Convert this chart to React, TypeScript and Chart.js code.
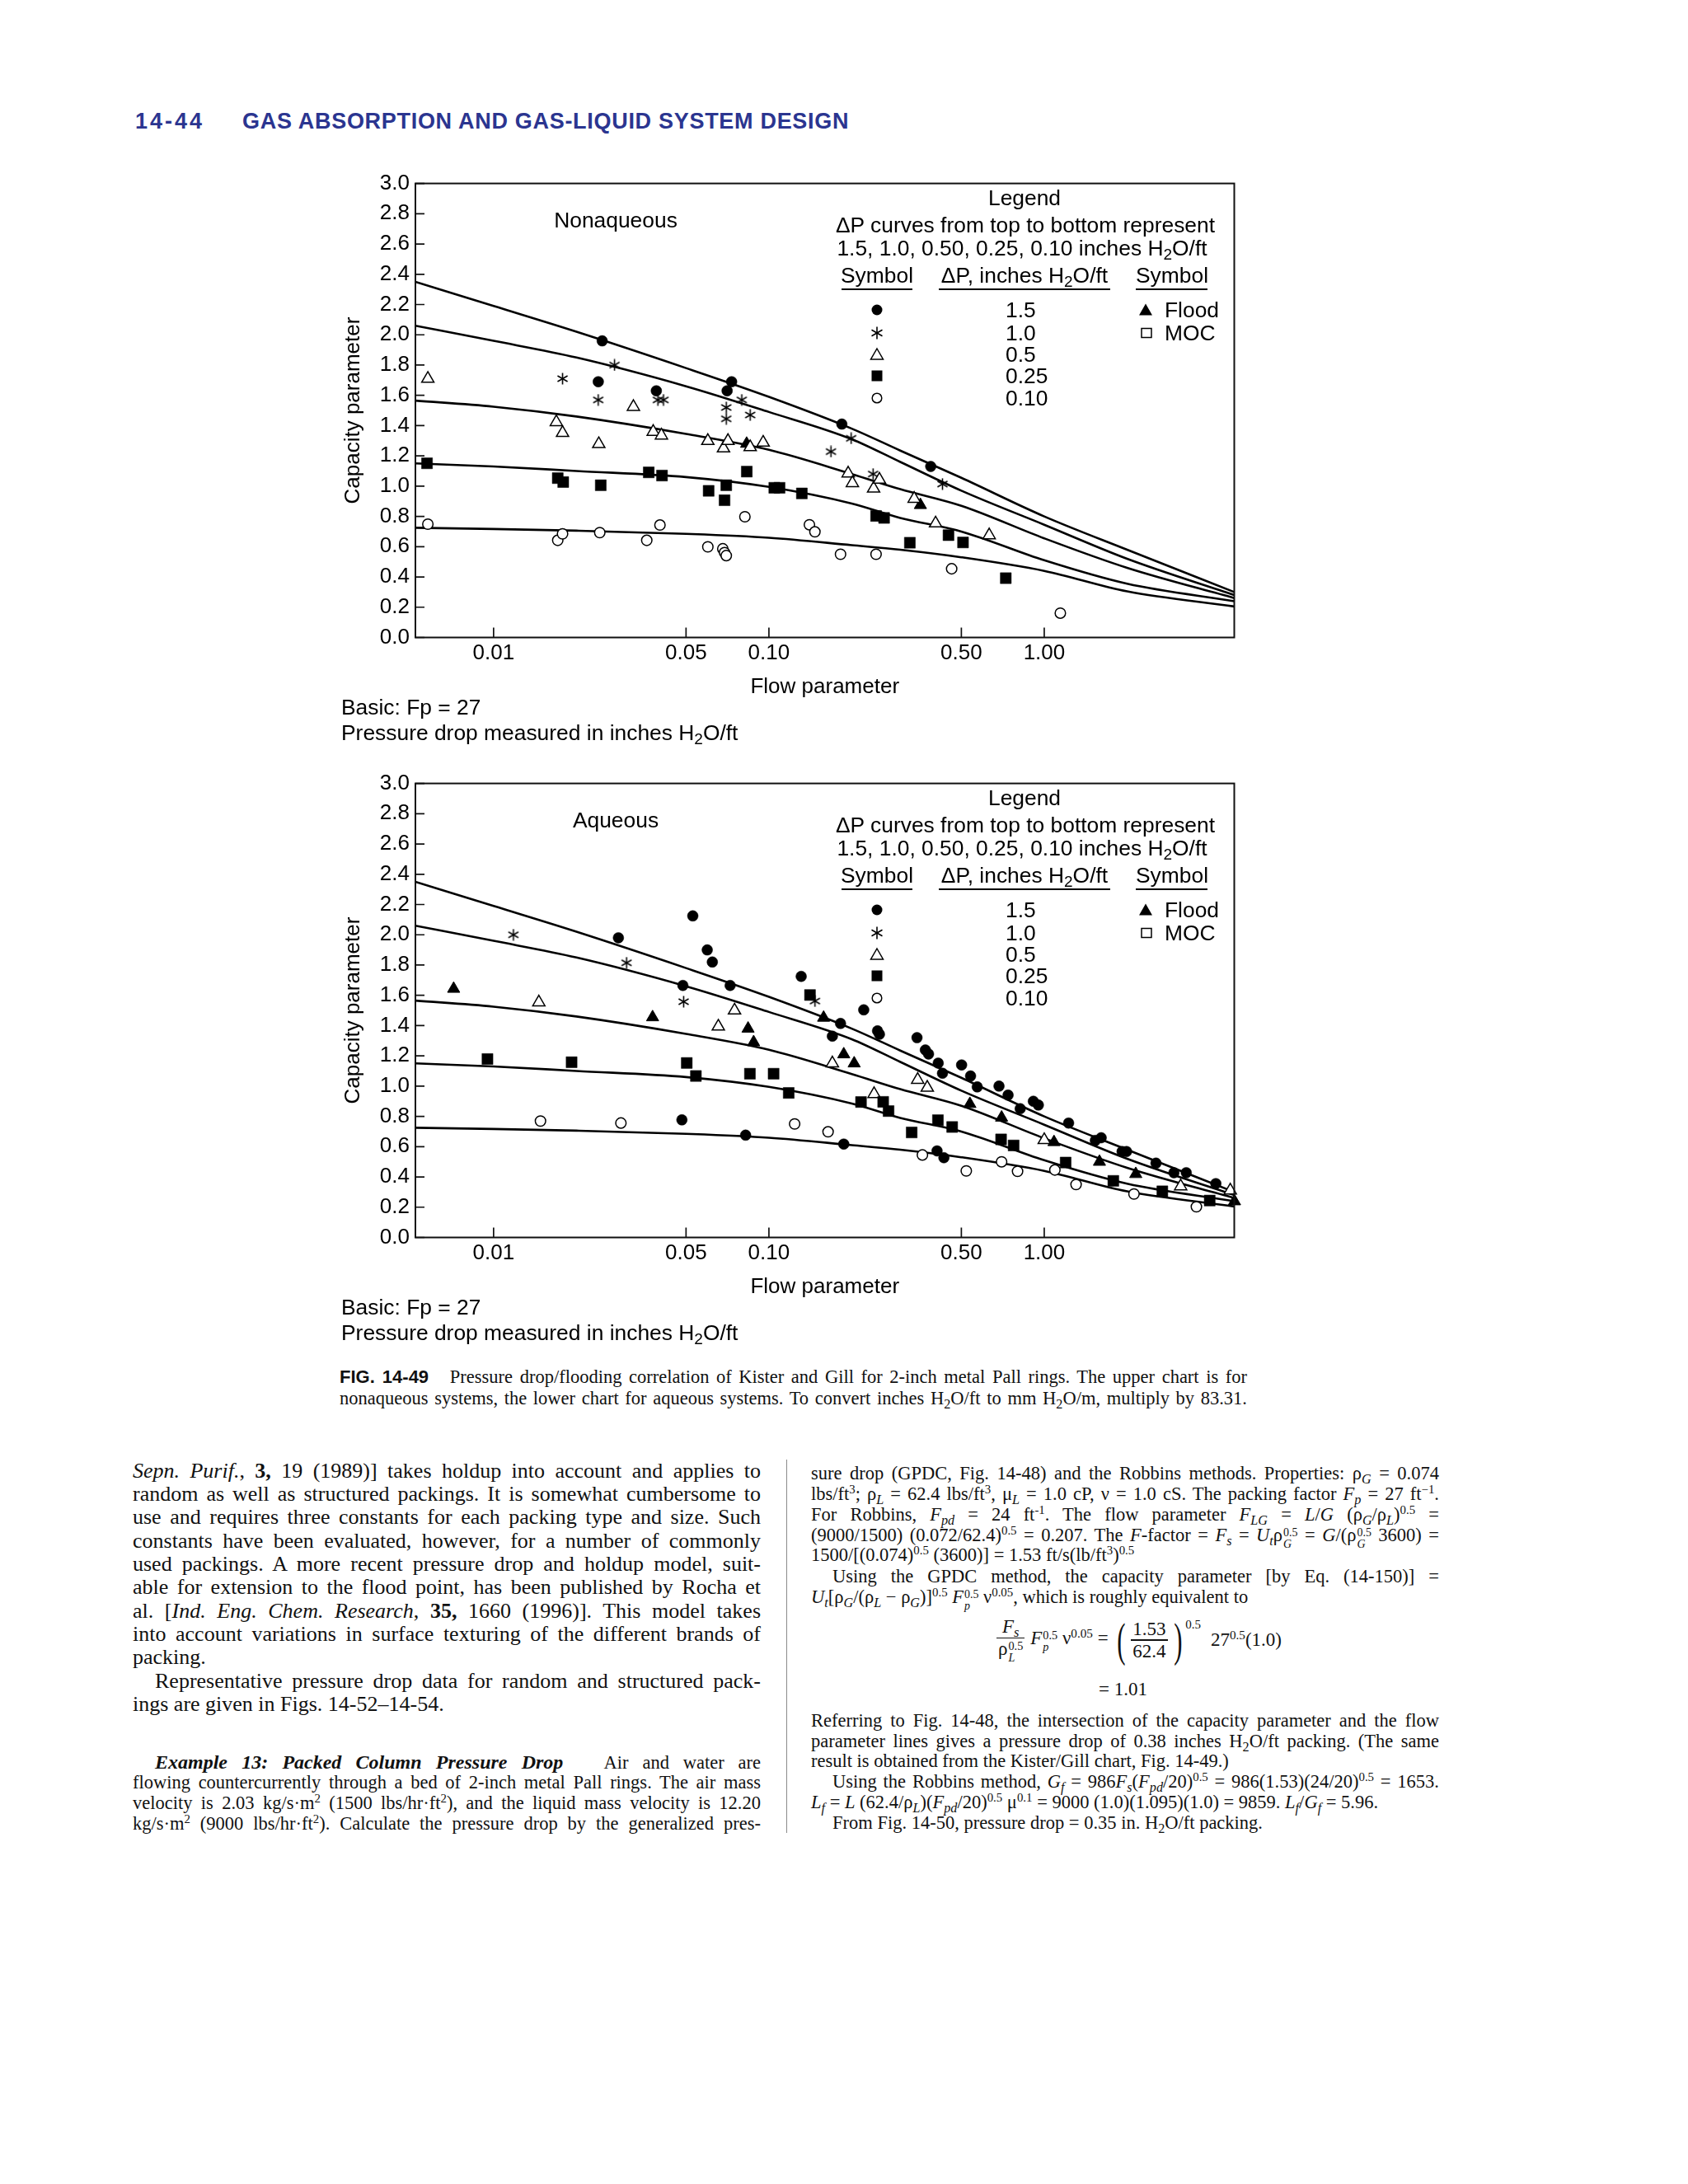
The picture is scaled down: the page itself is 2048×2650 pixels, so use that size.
import React, { useEffect, useRef } from 'react';
import { Chart, registerables } from 'chart.js';

Chart.register(...registerables);

// ---------------- axes ----------------
const X_MIN = 0.0052;
const X_MAX = 4.9;
const X_TICKS = [0.01, 0.05, 0.1, 0.5, 1.0];
const X_TICK_LABELS = ['0.01', '0.05', '0.10', '0.50', '1.00'];
const Y_MIN = 0;
const Y_MAX = 3;
const Y_STEP = 0.2;

// ---------------- ΔP correlation curves (1.5, 1.0, 0.50, 0.25, 0.10 in H2O/ft) ----------------
const CURVE_X = [0.0052, 0.01, 0.02, 0.05, 0.1, 0.2, 0.3, 0.5, 1, 2, 4.9];
const CURVE_DP_150 = [2.35, 2.19, 2.02, 1.78, 1.59, 1.38, 1.235, 1.055, 0.8, 0.58, 0.3];
const CURVE_DP_100 = [2.06, 1.96, 1.85, 1.66, 1.49, 1.31, 1.16, 0.97, 0.745, 0.52, 0.28];
const CURVE_DP_050 = [1.565, 1.525, 1.46, 1.345, 1.24, 1.08, 0.98, 0.87, 0.655, 0.46, 0.26];
const CURVE_DP_025 = [1.15, 1.13, 1.1, 1.06, 0.995, 0.885, 0.79, 0.7, 0.51, 0.355, 0.24];
const CURVE_DP_010 = [0.725, 0.717, 0.706, 0.685, 0.659, 0.61, 0.58, 0.53, 0.44, 0.305, 0.205];

// ---------------- Nonaqueous data points ----------------
const NA_DP150_X = [0.0248, 0.024, 0.039, 0.0705, 0.0732, 0.184, 0.387];
const NA_DP150_Y = [1.96, 1.69, 1.63, 1.63, 1.69, 1.41, 1.13];
const NA_DP100_X = [0.0178, 0.024, 0.0275, 0.0395, 0.0414, 0.07, 0.07, 0.0797, 0.0855, 0.168, 0.199, 0.239, 0.427];
const NA_DP100_Y = [1.71, 1.57, 1.8, 1.57, 1.57, 1.52, 1.445, 1.57, 1.47, 1.228, 1.316, 1.08, 1.014];
const NA_DP050_X = [0.00577, 0.0169, 0.0178, 0.0241, 0.0322, 0.038, 0.0407, 0.06, 0.0684, 0.071, 0.0855, 0.0953, 0.194, 0.201, 0.24, 0.252, 0.337, 0.403, 0.631];
const NA_DP050_Y = [1.71, 1.423, 1.352, 1.278, 1.524, 1.359, 1.335, 1.299, 1.25, 1.299, 1.258, 1.288, 1.084, 1.02, 0.984, 1.043, 0.917, 0.754, 0.676];
const NA_DP025_X = [0.00573, 0.0171, 0.0179, 0.0245, 0.0366, 0.0409, 0.0604, 0.07, 0.069, 0.0831, 0.1046, 0.1093, 0.1317, 0.245, 0.262, 0.325, 0.449, 0.507, 0.725];
const NA_DP025_Y = [1.151, 1.053, 1.027, 1.006, 1.091, 1.07, 0.969, 1.006, 0.907, 1.096, 0.989, 0.989, 0.952, 0.803, 0.79, 0.626, 0.676, 0.628, 0.392];
const NA_DP010_X = [0.00577, 0.0171, 0.0178, 0.0243, 0.036, 0.0402, 0.06, 0.068, 0.069, 0.07, 0.0818, 0.1403, 0.1469, 0.182, 0.245, 0.461, 1.144];
const NA_DP010_Y = [0.749, 0.642, 0.685, 0.693, 0.642, 0.743, 0.599, 0.586, 0.561, 0.541, 0.798, 0.745, 0.698, 0.55, 0.55, 0.454, 0.161];
const NA_FLOOD_X = [0.083, 0.355];
const NA_FLOOD_Y = [1.28, 0.875];

// ---------------- Aqueous data points ----------------
const AQ_DP150_X = [0.0284, 0.0529, 0.0597, 0.0623, 0.0723, 0.0487, 0.131, 0.0483, 0.0823, 0.17, 0.182, 0.221, 0.248, 0.252, 0.187, 0.345, 0.37, 0.38, 0.412, 0.427, 0.501, 0.54, 0.571, 0.685, 0.739, 0.818, 0.913, 0.952, 1.226, 1.533, 1.61, 1.918, 1.99, 2.546, 2.958, 3.28, 4.2, 0.408, 0.432];
const AQ_DP150_Y = [1.98, 2.125, 1.9, 1.82, 1.665, 1.665, 1.725, 0.777, 0.676, 1.33, 1.414, 1.504, 1.365, 1.343, 0.617, 1.32, 1.239, 1.212, 1.152, 1.085, 1.14, 1.067, 0.995, 1.0, 0.941, 0.851, 0.9, 0.875, 0.756, 0.641, 0.659, 0.568, 0.568, 0.491, 0.428, 0.428, 0.356, 0.572, 0.527];
const AQ_DP100_X = [0.0118, 0.0304, 0.049, 0.147];
const AQ_DP100_Y = [2.0, 1.815, 1.558, 1.562];
const AQ_DP050_X = [0.0146, 0.0655, 0.075, 0.17, 0.241, 0.347, 0.376, 1.0, 3.13, 4.74];
const AQ_DP050_Y = [1.554, 1.394, 1.5, 1.151, 0.948, 1.042, 0.99, 0.644, 0.338, 0.311];
const AQ_DP025_X = [0.0095, 0.0192, 0.0503, 0.0543, 0.0853, 0.104, 0.118, 0.141, 0.216, 0.26, 0.272, 0.33, 0.411, 0.463, 0.697, 0.774, 1.196, 1.782, 2.685, 3.99];
const AQ_DP025_Y = [1.179, 1.158, 1.153, 1.067, 1.082, 1.082, 0.955, 1.602, 0.895, 0.896, 0.835, 0.694, 0.775, 0.73, 0.648, 0.608, 0.495, 0.374, 0.305, 0.244];
const AQ_DP010_X = [0.0148, 0.029, 0.124, 0.164, 0.361, 0.521, 0.7, 0.8, 1.093, 1.305, 2.118, 3.57];
const AQ_DP010_Y = [0.769, 0.756, 0.75, 0.698, 0.545, 0.44, 0.5, 0.437, 0.446, 0.35, 0.287, 0.203];
const AQ_FLOOD_X = [0.00716, 0.0378, 0.084, 0.088, 0.158, 0.187, 0.204, 0.537, 0.7, 1.085, 1.587, 2.15, 4.91];
const AQ_FLOOD_Y = [1.643, 1.455, 1.38, 1.29, 1.452, 1.21, 1.15, 0.882, 0.792, 0.63, 0.5, 0.419, 0.239];

const SANS = "'Liberation Sans', Arial, Helvetica, sans-serif";
const SERIF = "'Liberation Serif', 'Times New Roman', serif";

const CHART_W = 1140;
const CHART_H = 680;

function pts(xs: number[], ys: number[]) {
  return xs.map((x, i) => ({ x, y: ys[i] }));
}

function makeAsterisk() {
  const size = 15;
  const c = document.createElement('canvas');
  c.width = size;
  c.height = size;
  const ctx = c.getContext('2d')!;
  ctx.strokeStyle = '#000';
  ctx.lineWidth = 1.6;
  const r = size / 2 - 0.5;
  const cx = size / 2;
  const cy = size / 2;
  for (const a of [90, 30, 150]) {
    const rad = (a * Math.PI) / 180;
    ctx.beginPath();
    ctx.moveTo(cx + r * Math.cos(rad), cy - r * Math.sin(rad));
    ctx.lineTo(cx - r * Math.cos(rad), cy + r * Math.sin(rad));
    ctx.stroke();
  }
  return c;
}

const framePlugin = {
  id: 'frameTicks',
  afterDraw(chart: any) {
    const { ctx, chartArea: a, scales } = chart;
    ctx.save();
    ctx.strokeStyle = '#111';
    ctx.lineWidth = 2;
    ctx.strokeRect(a.left, a.top, a.right - a.left, a.bottom - a.top);
    ctx.lineWidth = 1.7;
    ctx.beginPath();
    for (const t of scales.y.ticks) {
      const p = scales.y.getPixelForValue(t.value);
      ctx.moveTo(a.left, p);
      ctx.lineTo(a.left + 11, p);
    }
    for (const t of X_TICKS) {
      const p = scales.x.getPixelForValue(t);
      ctx.moveTo(p, a.bottom);
      ctx.lineTo(p, a.bottom - 12);
    }
    ctx.stroke();
    ctx.restore();
  },
};

function buildConfig(s: any, star: HTMLCanvasElement) {
  const curves = [CURVE_DP_150, CURVE_DP_100, CURVE_DP_050, CURVE_DP_025, CURVE_DP_010].map((ys) => ({
    data: pts(CURVE_X, ys),
    showLine: true,
    borderColor: '#000',
    borderWidth: 2.6,
    pointRadius: 0,
    cubicInterpolationMode: 'monotone',
    order: 10,
  }));
  const markers = [
    { data: s.dp010, pointStyle: 'circle', pointRadius: 6.3, pointBackgroundColor: '#fff', pointBorderColor: '#000', pointBorderWidth: 1.5 },
    { data: s.dp025, pointStyle: 'rect', pointRadius: 9.4, pointBackgroundColor: '#000', pointBorderColor: '#000', pointBorderWidth: 0.5 },
    { data: s.dp050, pointStyle: 'triangle', pointRadius: 8.6, pointBackgroundColor: '#fff', pointBorderColor: '#000', pointBorderWidth: 1.5 },
    { data: s.dp100, pointStyle: star, pointRadius: 7, pointBackgroundColor: '#000', pointBorderColor: '#000', pointBorderWidth: 0 },
    { data: s.flood, pointStyle: 'triangle', pointRadius: 8.6, pointBackgroundColor: '#000', pointBorderColor: '#000', pointBorderWidth: 1 },
    { data: s.dp150, pointStyle: 'circle', pointRadius: 6.5, pointBackgroundColor: '#000', pointBorderColor: '#000', pointBorderWidth: 0.5 },
  ].map((d) => ({ ...d, showLine: false, order: 0, clip: false }));

  return {
    type: 'scatter',
    data: { datasets: [...markers, ...curves] },
    plugins: [framePlugin],
    options: {
      animation: false,
      responsive: false,
      devicePixelRatio: 1,
      events: [],
      layout: { padding: { top: 20, right: 22.5, left: 0, bottom: 0 } },
      plugins: { legend: { display: false }, tooltip: { enabled: false } },
      scales: {
        x: {
          type: 'logarithmic',
          min: X_MIN,
          max: X_MAX,
          grid: { display: false, drawTicks: false },
          border: { display: false },
          afterBuildTicks: (axis: any) => {
            axis.ticks = X_TICKS.map((v) => ({ value: v }));
          },
          afterFit: (axis: any) => {
            axis.height = 106.5;
          },
          ticks: {
            autoSkip: false,
            maxRotation: 0,
            minRotation: 0,
            padding: 4,
            color: '#000',
            font: { size: 26, family: SANS },
            callback: (v: any) => {
              const i = X_TICKS.findIndex((t) => Math.abs(t - Number(v)) < 1e-9);
              return i >= 0 ? X_TICK_LABELS[i] : '';
            },
          },
          title: {
            display: true,
            text: 'Flow parameter',
            color: '#000',
            font: { size: 26, family: SANS },
            padding: { top: 0, bottom: 31 },
          },
        },
        y: {
          type: 'linear',
          min: Y_MIN,
          max: Y_MAX,
          grid: { display: false, drawTicks: false },
          border: { display: false },
          afterFit: (axis: any) => {
            axis.width = 124;
          },
          ticks: {
            stepSize: Y_STEP,
            padding: 7,
            color: '#000',
            font: { size: 26, family: SANS },
            callback: (v: any) => Number(v).toFixed(1),
          },
          title: {
            display: true,
            text: 'Capacity parameter',
            color: '#000',
            font: { size: 26, family: SANS },
            padding: { top: 33, bottom: 0 },
          },
        },
      },
    },
  };
}

function KisterChart({ top, series }: { top: number; series: any }) {
  const ref = useRef<HTMLCanvasElement | null>(null);
  useEffect(() => {
    if (!ref.current) return;
    const star = makeAsterisk();
    const chart = new Chart(ref.current, buildConfig(series, star) as any);
    return () => chart.destroy();
  }, []);
  return (
    <canvas
      ref={ref}
      width={CHART_W}
      height={CHART_H}
      style={{ position: 'absolute', left: 380, top, width: CHART_W, height: CHART_H }}
    />
  );
}

const SUBS: React.CSSProperties = { fontSize: '0.72em', verticalAlign: '-0.28em', lineHeight: 0 };
const SUPS: React.CSSProperties = { fontSize: '0.66em', verticalAlign: '0.55em', lineHeight: 0 };

function Sb({ children }: any) {
  return <span style={SUBS}>{children}</span>;
}
function Sp({ children }: any) {
  return <span style={SUPS}>{children}</span>;
}
function SS({ sup, sub }: any) {
  return (
    <span
      style={{
        display: 'inline-flex',
        flexDirection: 'column',
        verticalAlign: '0.42em',
        fontSize: '0.62em',
        lineHeight: 1,
        marginLeft: 1,
      }}
    >
      <span>{sup}</span>
      <span>{sub}</span>
    </span>
  );
}

function CText({ x, y, children, size = 26.4 }: any) {
  return (
    <div
      style={{
        position: 'absolute',
        left: x,
        top: y,
        transform: 'translate(-50%, -50%)',
        fontFamily: SANS,
        fontSize: size,
        lineHeight: 1,
        whiteSpace: 'nowrap',
        color: '#000',
      }}
    >
      {children}
    </div>
  );
}

function LText({ x, y, children, size = 26.4 }: any) {
  return (
    <div
      style={{
        position: 'absolute',
        left: x,
        top: y,
        transform: 'translateY(-50%)',
        fontFamily: SANS,
        fontSize: size,
        lineHeight: 1,
        whiteSpace: 'nowrap',
        color: '#000',
      }}
    >
      {children}
    </div>
  );
}

function Icon({ kind, x, y }: { kind: string; x: number; y: number }) {
  let shape: any = null;
  if (kind === 'dot') shape = <circle cx={9} cy={9} r={6.5} fill="#000" />;
  if (kind === 'ring') shape = <circle cx={9} cy={9} r={5.8} fill="#fff" stroke="#000" strokeWidth={1.5} />;
  if (kind === 'sq') shape = <rect x={2.5} y={2.5} width={13} height={13} fill="#000" />;
  if (kind === 'osq') shape = <rect x={3} y={3.5} width={12} height={11} fill="#fff" stroke="#000" strokeWidth={1.5} />;
  if (kind === 'tri') shape = <polygon points="9,2 16.5,15 1.5,15" fill="#fff" stroke="#000" strokeWidth={1.5} />;
  if (kind === 'ftri') shape = <polygon points="9,1.5 17,15.5 1,15.5" fill="#000" />;
  if (kind === 'star')
    shape = (
      <g stroke="#000" strokeWidth={1.6}>
        <line x1={9} y1={1.5} x2={9} y2={16.5} />
        <line x1={2.5} y1={5.25} x2={15.5} y2={12.75} />
        <line x1={2.5} y1={12.75} x2={15.5} y2={5.25} />
      </g>
    );
  return (
    <svg width={18} height={18} style={{ position: 'absolute', left: x - 9, top: y - 9 }}>
      {shape}
    </svg>
  );
}

function Rule({ x1, x2, y }: any) {
  return <div style={{ position: 'absolute', left: x1, top: y - 1, width: x2 - x1, height: 2, background: '#000' }} />;
}

const LEGEND_ROWS = [
  { kind: 'dot', label: '1.5' },
  { kind: 'star', label: '1.0' },
  { kind: 'tri', label: '0.5' },
  { kind: 'sq', label: '0.25' },
  { kind: 'ring', label: '0.10' },
];
const LEGEND_ROW_Y = [376, 403.5, 429.5, 456, 482.5];

function ChartLegend({ dy, title }: { dy: number; title: string }) {
  return (
    <>
      <CText x={747} y={267 + dy}>{title}</CText>
      <CText x={1243} y={240 + dy}>Legend</CText>
      <CText x={1244} y={273 + dy}>ΔP curves from top to bottom represent</CText>
      <CText x={1240} y={301 + dy}>
        1.5, 1.0, 0.50, 0.25, 0.10 inches H<Sb>2</Sb>O/ft
      </CText>
      <CText x={1064} y={334 + dy}>Symbol</CText>
      <CText x={1243} y={334 + dy}>
        ΔP, inches H<Sb>2</Sb>O/ft
      </CText>
      <CText x={1422} y={334 + dy}>Symbol</CText>
      <Rule x1={1021} x2={1107} y={351 + dy} />
      <Rule x1={1139} x2={1347} y={351 + dy} />
      <Rule x1={1378} x2={1465} y={351 + dy} />
      {LEGEND_ROWS.map((r, i) => (
        <React.Fragment key={r.label}>
          <Icon kind={r.kind} x={1064} y={LEGEND_ROW_Y[i] + dy} />
          <LText x={1220} y={LEGEND_ROW_Y[i] + dy}>{r.label}</LText>
        </React.Fragment>
      ))}
      <Icon kind="ftri" x={1390} y={LEGEND_ROW_Y[0] + dy} />
      <LText x={1413} y={LEGEND_ROW_Y[0] + dy}>Flood</LText>
      <Icon kind="osq" x={1391} y={LEGEND_ROW_Y[1] + dy} />
      <LText x={1413} y={LEGEND_ROW_Y[1] + dy}>MOC</LText>
      <LText x={414} y={858 + dy}>Basic: Fp = 27</LText>
      <LText x={414} y={889 + dy}>
        Pressure drop measured in inches H<Sb>2</Sb>O/ft
      </LText>
    </>
  );
}

function TL({ x, cy, w, lh, fs, j, indent = 0, children }: any) {
  return (
    <div
      style={{
        position: 'absolute',
        left: x,
        top: cy - lh / 2,
        width: w,
        height: lh,
        lineHeight: `${lh}px`,
        fontSize: fs,
        fontFamily: SERIF,
        color: '#111',
        whiteSpace: 'nowrap',
        textAlign: j ? 'justify' : 'left',
        textAlignLast: j ? 'justify' : 'left',
        paddingLeft: indent,
        boxSizing: 'border-box',
      }}
    >
      {children}
    </div>
  );
}

function Frac({ num, den }: any) {
  return (
    <span style={{ display: 'inline-flex', flexDirection: 'column', alignItems: 'center', margin: '0 3px' }}>
      <span style={{ lineHeight: 1.1, padding: '0 2px' }}>{num}</span>
      <span style={{ alignSelf: 'stretch', height: 1.3, background: '#111' }} />
      <span style={{ lineHeight: 1.1, padding: '0 2px' }}>{den}</span>
    </span>
  );
}

function BodyText() {
  const L = 161;
  const R = 984;
  const W = 762;
  const mainY = (i: number) => 1785 + i * 28.33;
  const ML = { x: L, w: W, lh: 28.33, fs: 26 };
  const ex = { x: L, w: W, lh: 24.8, fs: 22.5 };
  const rc = { x: R, w: W, lh: 24.8, fs: 22.5 };
  return (
    <>
      {/* caption */}
      <TL x={412} cy={1671} w={1101} lh={26} fs={22.5} j>
        <b style={{ fontFamily: SANS, fontSize: 22 }}>FIG. 14-49</b>
        {'\u00a0\u00a0 '}Pressure drop/flooding correlation of Kister and Gill for 2-inch metal Pall rings. The upper chart is for
      </TL>
      <TL x={412} cy={1697} w={1101} lh={26} fs={22.5} j>
        nonaqueous systems, the lower chart for aqueous systems. To convert inches H<Sb>2</Sb>O/ft to mm H<Sb>2</Sb>O/m, multiply by 83.31.
      </TL>

      {/* left column */}
      <TL {...ML} cy={mainY(0)} j>
        <i>Sepn. Purif.</i>, <b>3,</b> 19 (1989)] takes holdup into account and applies to
      </TL>
      <TL {...ML} cy={mainY(1)} j>random as well as structured packings. It is somewhat cumbersome to</TL>
      <TL {...ML} cy={mainY(2)} j>use and requires three constants for each packing type and size. Such</TL>
      <TL {...ML} cy={mainY(3)} j>constants have been evaluated, however, for a number of commonly</TL>
      <TL {...ML} cy={mainY(4)} j>used packings. A more recent pressure drop and holdup model, suit-</TL>
      <TL {...ML} cy={mainY(5)} j>able for extension to the flood point, has been published by Rocha et</TL>
      <TL {...ML} cy={mainY(6)} j>
        al. [<i>Ind. Eng. Chem. Research</i>, <b>35,</b> 1660 (1996)]. This model takes
      </TL>
      <TL {...ML} cy={mainY(7)} j>into account variations in surface texturing of the different brands of</TL>
      <TL {...ML} cy={mainY(8)}>packing.</TL>
      <TL {...ML} cy={mainY(9)} j indent={27}>Representative pressure drop data for random and structured pack-</TL>
      <TL {...ML} cy={mainY(10)}>ings are given in Figs. 14-52–14-54.</TL>

      <TL {...ex} cy={2138} j indent={27}>
        <b><i style={{ fontSize: 24 }}>Example 13: Packed Column Pressure Drop</i></b>{'\u00a0\u00a0'} Air and water are
      </TL>
      <TL {...ex} cy={2163} j>flowing countercurrently through a bed of 2-inch metal Pall rings. The air mass</TL>
      <TL {...ex} cy={2188} j>
        velocity is 2.03 kg/s·m<Sp>2</Sp> (1500 lbs/hr·ft<Sp>2</Sp>), and the liquid mass velocity is 12.20
      </TL>
      <TL {...ex} cy={2213} j>
        kg/s·m<Sp>2</Sp> (9000 lbs/hr·ft<Sp>2</Sp>). Calculate the pressure drop by the generalized pres-
      </TL>

      {/* column rule */}
      <div style={{ position: 'absolute', left: 954, top: 1771, width: 1, height: 453, background: '#8a8a8a' }} />

      {/* right column */}
      <TL {...rc} cy={1788} j>
        sure drop (GPDC, Fig. 14-48) and the Robbins methods. Properties: ρ<Sb><i>G</i></Sb> = 0.074
      </TL>
      <TL {...rc} cy={1813} j>
        lbs/ft<Sp>3</Sp>; ρ<Sb><i>L</i></Sb> = 62.4 lbs/ft<Sp>3</Sp>, μ<Sb><i>L</i></Sb> = 1.0 cP, ν = 1.0 cS. The packing factor <i>F</i>
        <Sb><i>p</i></Sb> = 27 ft<Sp>−1</Sp>.
      </TL>
      <TL {...rc} cy={1838} j>
        For Robbins, <i>F</i><Sb><i>pd</i></Sb> = 24 ft<Sp>-1</Sp>. The flow parameter <i>F</i><Sb><i>LG</i></Sb> = <i>L</i>/<i>G</i> (ρ<Sb><i>G</i></Sb>/ρ<Sb><i>L</i></Sb>)<Sp>0.5</Sp> =
      </TL>
      <TL {...rc} cy={1863} j>
        (9000/1500) (0.072/62.4)<Sp>0.5</Sp> = 0.207. The <i>F</i>-factor = <i>F</i><Sb><i>s</i></Sb> = <i>U</i><Sb><i>t</i></Sb>ρ
        <SS sup="0.5" sub={<i>G</i>} /> = <i>G</i>/(ρ<SS sup="0.5" sub={<i>G</i>} /> 3600) =
      </TL>
      <TL {...rc} cy={1887}>
        1500/[(0.074)<Sp>0.5</Sp> (3600)] = 1.53 ft/s(lb/ft<Sp>3</Sp>)<Sp>0.5</Sp>
      </TL>
      <TL {...rc} cy={1913} j indent={26}>
        Using the GPDC method, the capacity parameter [by Eq. (14-150)] =
      </TL>
      <TL {...rc} cy={1938}>
        <i>U</i><Sb><i>t</i></Sb>[ρ<Sb><i>G</i></Sb>/(ρ<Sb><i>L</i></Sb> − ρ<Sb><i>G</i></Sb>)]<Sp>0.5</Sp> <i>F</i>
        <SS sup="0.5" sub={<i>p</i>} /> ν<Sp>0.05</Sp>, which is roughly equivalent to
      </TL>

      {/* equation */}
      <div
        style={{
          position: 'absolute',
          left: 1206,
          top: 1990 - 35,
          height: 70,
          display: 'flex',
          alignItems: 'center',
          fontFamily: SERIF,
          fontSize: 23,
          color: '#111',
          whiteSpace: 'nowrap',
        }}
      >
        <Frac
          num={
            <>
              <i>F</i>
              <Sb><i>s</i></Sb>
            </>
          }
          den={
            <>
              ρ<SS sup="0.5" sub={<i>L</i>} />
            </>
          }
        />
        <span style={{ marginLeft: 4 }}>
          <i>F</i>
          <SS sup="0.5" sub={<i>p</i>} /> ν<Sp>0.05</Sp> =
        </span>
        <span style={{ fontSize: 56, fontWeight: 300, marginLeft: 6, lineHeight: 1, display: 'inline-block', transform: 'scaleX(0.55)' }}>(</span>
        <Frac num="1.53" den="62.4" />
        <span style={{ fontSize: 56, fontWeight: 300, lineHeight: 1, display: 'inline-block', transform: 'scaleX(0.55)' }}>)</span>
        <span style={{ fontSize: 15, alignSelf: 'flex-start', marginTop: 8 }}>0.5</span>
        <span style={{ marginLeft: 12 }}>
          27<Sp>0.5</Sp>(1.0)
        </span>
      </div>
      <TL x={1333} cy={2050} w={120} lh={26} fs={23}>
        = 1.01
      </TL>

      <TL {...rc} cy={2088} j>
        Referring to Fig. 14-48, the intersection of the capacity parameter and the flow
      </TL>
      <TL {...rc} cy={2113} j>
        parameter lines gives a pressure drop of 0.38 inches H<Sb>2</Sb>O/ft packing. (The same
      </TL>
      <TL {...rc} cy={2137}>result is obtained from the Kister/Gill chart, Fig. 14-49.)</TL>
      <TL {...rc} cy={2162} j indent={26}>
        Using the Robbins method, <i>G</i><Sb><i>f</i></Sb> = 986<i>F</i><Sb><i>s</i></Sb>(<i>F</i><Sb><i>pd</i></Sb>/20)<Sp>0.5</Sp> = 986(1.53)(24/20)<Sp>0.5</Sp> = 1653.
      </TL>
      <TL {...rc} cy={2187}>
        <i>L</i><Sb><i>f</i></Sb> = <i>L</i> (62.4/ρ<Sb><i>L</i></Sb>)(<i>F</i><Sb><i>pd</i></Sb>/20)<Sp>0.5</Sp> μ<Sp>0.1</Sp> = 9000 (1.0)(1.095)(1.0) = 9859. <i>L</i>
        <Sb><i>f</i></Sb>/<i>G</i><Sb><i>f</i></Sb> = 5.96.
      </TL>
      <TL {...rc} cy={2212} indent={26}>
        From Fig. 14-50, pressure drop = 0.35 in. H<Sb>2</Sb>O/ft packing.
      </TL>
    </>
  );
}

const NONAQUEOUS = {
  dp150: pts(NA_DP150_X, NA_DP150_Y),
  dp100: pts(NA_DP100_X, NA_DP100_Y),
  dp050: pts(NA_DP050_X, NA_DP050_Y),
  dp025: pts(NA_DP025_X, NA_DP025_Y),
  dp010: pts(NA_DP010_X, NA_DP010_Y),
  flood: pts(NA_FLOOD_X, NA_FLOOD_Y),
};
const AQUEOUS = {
  dp150: pts(AQ_DP150_X, AQ_DP150_Y),
  dp100: pts(AQ_DP100_X, AQ_DP100_Y),
  dp050: pts(AQ_DP050_X, AQ_DP050_Y),
  dp025: pts(AQ_DP025_X, AQ_DP025_Y),
  dp010: pts(AQ_DP010_X, AQ_DP010_Y),
  flood: pts(AQ_FLOOD_X, AQ_FLOOD_Y),
};

export default function App() {
  return (
    <div
      style={{
        position: 'absolute',
        left: 0,
        top: 0,
        width: 2048,
        height: 2650,
        background: '#fff',
        overflow: 'hidden',
        color: '#000',
      }}
    >
      {/* running head */}
      <div
        style={{
          position: 'absolute',
          left: 164,
          top: 147,
          transform: 'translateY(-50%)',
          fontFamily: SANS,
          fontWeight: 700,
          fontSize: 27,
          lineHeight: 1,
          letterSpacing: 3,
          color: '#2b3590',
          whiteSpace: 'nowrap',
        }}
      >
        14-44
      </div>
      <div
        style={{
          position: 'absolute',
          left: 294,
          top: 147,
          transform: 'translateY(-50%)',
          fontFamily: SANS,
          fontWeight: 700,
          fontSize: 27,
          lineHeight: 1,
          letterSpacing: 0.7,
          color: '#2b3590',
          whiteSpace: 'nowrap',
        }}
      >
        GAS ABSORPTION AND GAS-LIQUID SYSTEM DESIGN
      </div>

      <KisterChart top={200} series={NONAQUEOUS} />
      <KisterChart top={928} series={AQUEOUS} />
      <ChartLegend dy={0} title="Nonaqueous" />
      <ChartLegend dy={728} title="Aqueous" />
      <BodyText />
    </div>
  );
}
